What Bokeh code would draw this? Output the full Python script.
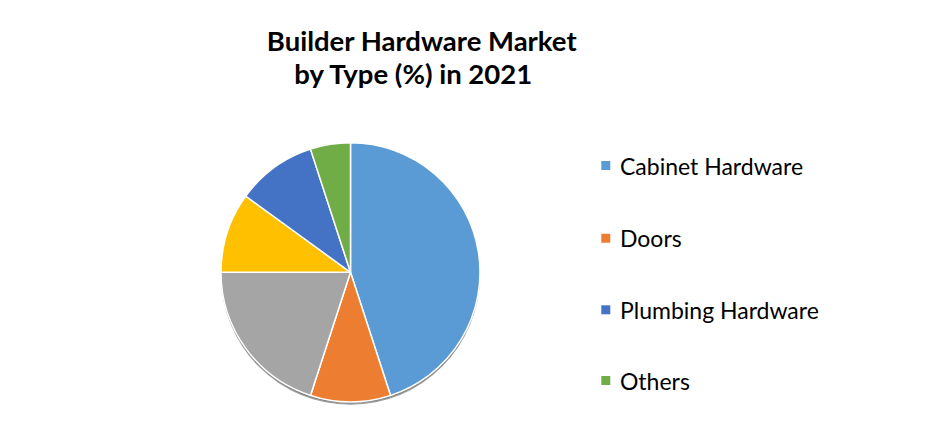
import math
from bokeh.plotting import figure
from bokeh.models import Range1d, ColumnDataSource
from bokeh.core.properties import value
from bokeh.embed import file_html
from bokeh.resources import INLINE

# ---- data ----
title_lines = ["Builder Hardware Market", "by Type (%) in 2021"]
categories = ["Cabinet Hardware", "Doors", "Segment C", "Segment D", "Plumbing Hardware", "Others"]
shares = [45, 10, 20, 10, 10, 5]
colors = ["#5B9BD5", "#ED7D31", "#A5A5A5", "#FFC000", "#4472C4", "#70AD47"]
legend_labels = ["Cabinet Hardware", "Doors", "Plumbing Hardware", "Others"]

W, H = 924, 432
p = figure(width=W, height=H, output_backend="svg", toolbar_location=None,
           x_range=Range1d(0, W), y_range=Range1d(448 - H, 448),
           min_border=0)
p.axis.visible = False
p.grid.visible = False
p.outline_line_color = None
p.background_fill_color = "white"

def sy(y):
    return 448 - y

cx, cy, r = 350, sy(271.8), 129.5

total = float(sum(shares))
starts, ends = [], []
cum = 0.0
for s in shares:
    a0 = math.pi / 2 - 2 * math.pi * cum / total
    cum += s
    a1 = math.pi / 2 - 2 * math.pi * cum / total
    starts.append(a1)
    ends.append(a0)

src = ColumnDataSource(dict(cat=categories, val=shares, color=colors, start=starts, end=ends))

# shadow
p.circle(x=[cx], y=[cy - 3], radius=r, fill_color="#222222", fill_alpha=0.45, line_color=None)
p.circle(x=[cx], y=[cy - 1.5], radius=r, fill_color="#222222", fill_alpha=0.3, line_color=None)

p.wedge(x=cx, y=cy, radius=r, start_angle="start", end_angle="end",
        fill_color="color", line_color="white", line_width=1.5, source=src)

# title
p.text(x=[421.5], y=[sy(40)], text=[title_lines[0]], text_font=value("Lato"),
       text_font_style="bold", text_font_size="27.5px", text_align="center",
       text_baseline="middle", text_color="#000000")
p.text(x=[413.5], y=[sy(73)], text=[title_lines[1]], text_font=value("Lato"),
       text_font_style="bold", text_font_size="27.5px", text_align="center",
       text_baseline="middle", text_color="#000000")

# legend
leg_y = [165, 237.7, 309.3, 380]
leg_colors = [colors[categories.index(l)] for l in legend_labels]
p.rect(x=[605.3] * 4, y=[sy(v) for v in leg_y], width=9, height=9,
       fill_color=leg_colors, line_color=None)
p.text(x=[619.5] * 4, y=[sy(v) for v in leg_y], text=legend_labels, text_font=value("Lato"),
       text_font_size="23px", text_align="left", text_baseline="middle", text_color="#000000")

open("out.html", "w").write(file_html(p, INLINE))
